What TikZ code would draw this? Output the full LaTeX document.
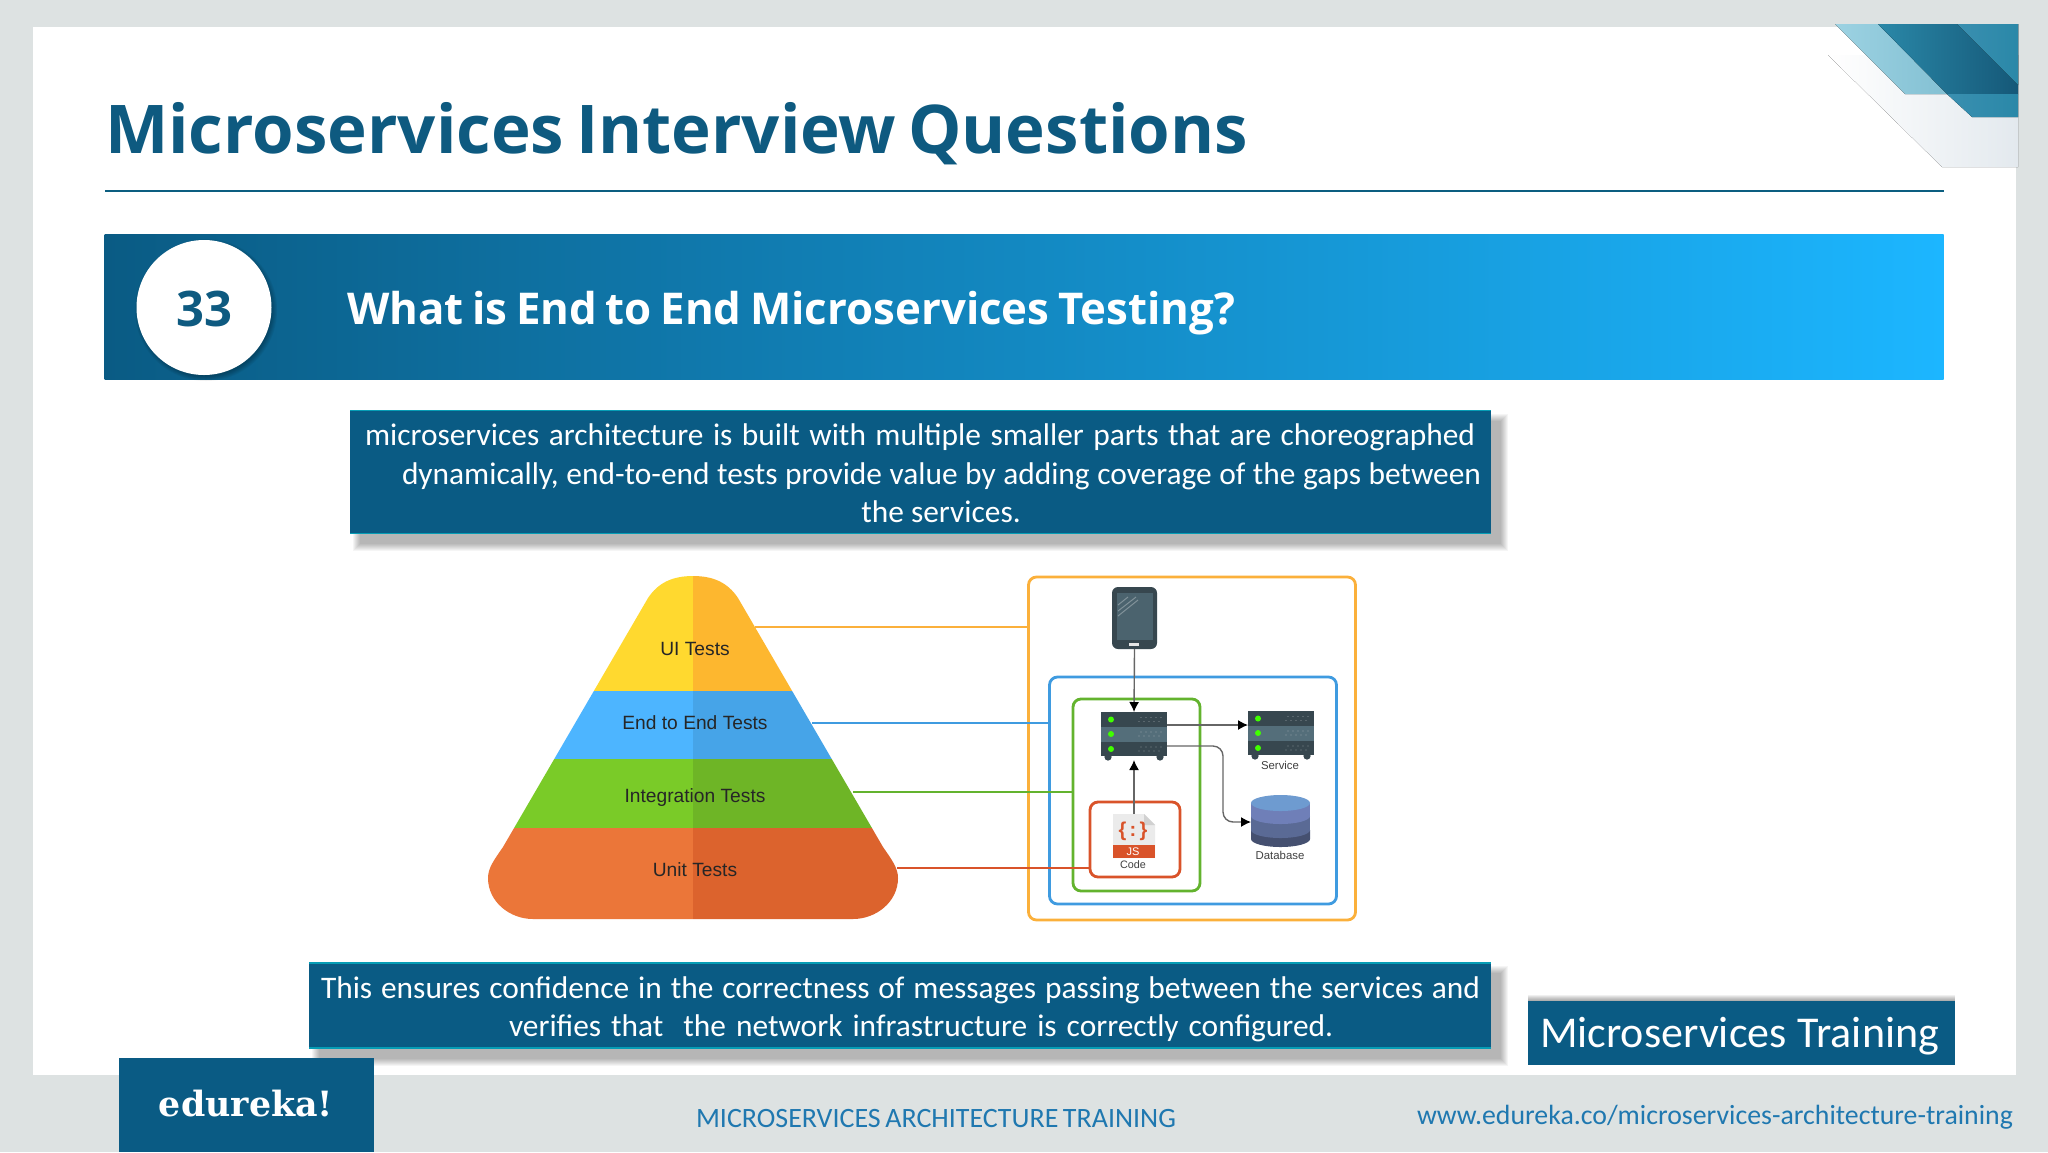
\documentclass[tikz,border=0pt]{standalone}
\usepackage{fontspec}
\usetikzlibrary{arrows.meta,calc}
\setmainfont{Carlito}
\newfontfamily\titlef{Open Sans}
\newfontfamily\labelf{Liberation Sans}
\newfontfamily\slabf{DejaVu Serif}
\definecolor{bgc}{HTML}{DDE2E2}
\definecolor{navy}{HTML}{0A5B84}
\definecolor{titlec}{HTML}{0E5A80}
\definecolor{footc}{HTML}{1F78B0}
\definecolor{ora}{HTML}{FBB03B}
\definecolor{blu}{HTML}{3F9BE0}
\definecolor{gre}{HTML}{63B32E}
\definecolor{red1}{HTML}{D9532A}
\definecolor{srvd}{HTML}{37474F}
\definecolor{srvl}{HTML}{546E7A}
\definecolor{ty1}{HTML}{FFD92F}\definecolor{ty2}{HTML}{FDB72F}
\definecolor{tb1}{HTML}{4DB5FF}\definecolor{tb2}{HTML}{46A4E8}
\definecolor{tg1}{HTML}{7ACB28}\definecolor{tg2}{HTML}{6EB526}
\definecolor{to1}{HTML}{EB7639}\definecolor{to2}{HTML}{DC632D}
\definecolor{bandm}{HTML}{1280B8}\definecolor{bandr}{HTML}{1CB6FF}
\definecolor{cg}{HTML}{E3E9EE}\definecolor{lt1}{HTML}{9CD2E2}\definecolor{lt2}{HTML}{78B8CC}
\definecolor{dk1}{HTML}{2A88A8}\definecolor{dk2}{HTML}{155878}\definecolor{md}{HTML}{3A8FB0}
\definecolor{db1}{HTML}{6E9BD0}\definecolor{db2}{HTML}{6F7FB8}\definecolor{db3}{HTML}{5A6A95}\definecolor{db4}{HTML}{455070}
\newcommand\fitl[2]{\makebox[#1pt][s]{#2}}
\newcommand\softshadow[4]{\foreach \i in {0,...,7}{\fill[black,opacity=.04] ({#1+10-\i},{#2+10-\i}) rectangle ({#3+10+\i},{#4+10+\i});}}
\newcommand\serverart[1]{%
 \begin{scope}[shift={(#1)}]
  \fill[srvd] (7,45) circle[radius=3.6]; \fill[srvd] (59,45) circle[radius=3.6];
  \fill[srvd] (0,0) rectangle (66,14.5);
  \fill[srvl] (0,14.5) rectangle (66,29.5);
  \fill[srvd] (0,29.5) rectangle (66,44);
  \foreach \yy in {7.5,22,37}{
   \fill[green!75!yellow] (10,\yy) circle[radius=3];
   \foreach \xx in {40,45,50,55,60}{\fill[white,opacity=.35] (\xx,\yy-2) circle[radius=.7]; \fill[white,opacity=.35] (\xx-2,\yy+2) circle[radius=.7];}
  }
 \end{scope}}
\tikzset{
 every node/.style={outer sep=0pt},
 panel/.style={fill=navy,minimum width=#1,inner sep=0pt,anchor=north west},
 tx/.style={inner sep=0pt,anchor=base west,text=white},
 txc/.style={inner sep=0pt,anchor=base,text=white},
 frame/.style={draw=#1,line width=1.4pt,rounded corners=4pt,inner sep=0pt,anchor=north west},
 lbl/.style={inner sep=0pt,font=\labelf\fontsize{9.6}{11}\selectfont,text=black!85},
 small/.style={inner sep=0pt,font=\labelf\fontsize{5.7}{6}\selectfont,text=black!75},
 tie/.style={line width=1.2pt},
 flow/.style={draw=black!60,line width=.7pt,-{Latex[black,length=5pt,width=5pt]}},
 ghost/.style={inner sep=0pt,anchor=north west}
}
\def\pyr{(693,576) .. controls (672,576) and (658,583) .. (648,598) -- (503,847) .. controls (494,860) and (488,868) .. (488,878) .. controls (488,902) and (510,919) .. (533,919) -- (853,919) .. controls (876,919) and (898,902) .. (898,878) .. controls (898,868) and (892,860) .. (883,847) -- (738,598) .. controls (728,583) and (714,576) .. (693,576) -- cycle}
\begin{document}
\begin{tikzpicture}[x=.5pt,y=-.5pt]
\useasboundingbox (0,0) rectangle (2048,1152);
\fill[bgc] (0,0) rectangle (2048,1152);
\fill[white] (33,27) rectangle (2016,1075);
% corner decoration
\fill[left color=white,right color=cg] (1828,55) -- (2018,55) -- (2018,167) -- (1942,167) -- cycle;
\fill[left color=lt1,right color=lt2] (1835,24) -- (1960,24) -- (2000,94) -- (1905,94) -- cycle;
\fill[left color=dk1,right color=dk2] (1878,24) -- (2018,24) -- (2018,94) -- (1947,94) -- cycle;
\fill[left color=md,right color=dk1] (1947,94) -- (2018,94) -- (2018,117) -- (1972,117) -- cycle;
\fill[left color=md,right color=dk1] (1957,24) -- (2018,24) -- (2018,85) -- cycle;
% title
\node[tx,text=titlec] (title) at (105,153) {\fitl{571.5}{\titlef\bfseries\fontsize{33.6}{40}\selectfont Microservices Interview Questions}};
\coordinate (ruleL) at (105,191); \coordinate (ruleR) at (1944,191);
\draw[titlec!90!teal,line width=1pt] (ruleL) -- (ruleR);
% band
\node[inner sep=0pt,anchor=north west,minimum width=919.5pt,minimum height=72.5pt,left color=navy,middle color=bandm,right color=bandr] (band) at (104.5,234.5) {};
\foreach \i in {0,...,5}{\fill[black,opacity=.05] (206,310) circle[radius={66+\i}];}
\node[circle,fill=white,minimum size=67.5pt,inner sep=0pt] (num) at (204,307.5) {};
\node[txc,text=titlec] (numt) at (204,326) {\titlef\bfseries\fontsize{24.5}{30}\selectfont 33};
\node[tx] (q) at (347,324) {\fitl{444}{\titlef\bfseries\fontsize{21.9}{26}\selectfont What is End to End Microservices Testing?}};
% text box 1
\softshadow{350}{411}{1491}{534}
\node[panel=570.5pt,minimum height=61.5pt] (b1) at (350,410.5) {};
\draw[navy!60!cyan,line width=.8pt] (b1.north west) -- (b1.north east) (b1.south west) -- (b1.south east);
\node[tx] (b1a) at (365,445.5) {\fitl{555}{\fontsize{15.7}{18}\selectfont microservices architecture is built with multiple smaller parts that are choreographed}};
\node[tx] (b1b) at (402,484) {\fitl{539.5}{\fontsize{15.7}{18}\selectfont dynamically, end-to-end tests provide value by adding coverage of the gaps between}};
\node[txc] (b1c) at (941,522) {\fontsize{15.7}{18}\selectfont the services.};
% pyramid
\begin{scope}
\clip \pyr;
\fill[ty1] (480,570) rectangle (693,691);
\fill[ty2] (693,570) rectangle (905,691);
\fill[tb1] (480,691) rectangle (693,759);
\fill[tb2] (693,691) rectangle (905,759);
\fill[tg1] (480,759) rectangle (693,828);
\fill[tg2] (693,759) rectangle (905,828);
\fill[to1] (480,828) rectangle (693,925);
\fill[to2] (693,828) rectangle (905,925);
\end{scope}
\node[lbl] (l1) at (695,649) {UI Tests};
\node[lbl] (l2) at (695,723) {End to End Tests};
\node[lbl] (l3) at (695,798) {Integration Tests};
\node[lbl] (l4) at (695,870) {Unit Tests};
\coordinate (e1) at (755,627); \coordinate (e2) at (812,723); \coordinate (e3) at (853,792); \coordinate (e4) at (897,868);
% frames
\node[frame=ora,minimum width=163.5pt,minimum height=171.5pt] (fo) at (1028.5,577) {};
\node[frame=blu,minimum width=143.5pt,minimum height=113.5pt] (fb) at (1049.5,677) {};
\node[frame=gre,minimum width=63.5pt,minimum height=96pt] (fg) at (1073,699) {};
\node[frame=red1,minimum width=45pt,minimum height=37.5pt] (fr) at (1090,802) {};
\draw[ora,tie] (e1) -- (e1 -| fo.west);
\draw[blu,tie] (e2) -- (e2 -| fb.west);
\draw[gre,tie] (e3) -- (e3 -| fg.west);
\draw[red1,tie] (e4) -- (e4 -| fr.west);
% tablet
\node[ghost,minimum width=22.5pt,minimum height=31pt] (tab) at (1112,587) {};
\fill[srvd,rounded corners=3pt] (tab.north west) rectangle (tab.south east);
\fill[srvl!90!black] (1117,593) rectangle (1153,640);
\draw[white,opacity=.3,line width=.5pt] (1118,605) -- (1128,597) (1118,611) -- (1136,597) (1118,616) -- (1138,600);
\fill[black!10] (1129,642.5) rectangle (1139,646);
% servers
\node[ghost,minimum width=33pt,minimum height=22pt] (srv) at (1101,712) {};
\serverart{1101,712}
\node[ghost,minimum width=33pt,minimum height=22pt] (svc) at (1248,711) {};
\serverart{1248,711}
\node[small] (svct) at (1280,765) {Service};
% database
\fill[db4] (1251,830) -- (1251,839) arc[start angle=180,end angle=0,x radius=29.5,y radius=8] -- (1310,830) -- cycle;
\fill[db3] (1251,815) rectangle (1310,830);
\fill[db3] (1251,830) arc[start angle=180,end angle=0,x radius=29.5,y radius=8];
\fill[db2] (1251,803) rectangle (1310,816);
\fill[db2] (1251,816) arc[start angle=180,end angle=0,x radius=29.5,y radius=8];
\fill[db1] (1280.5,803) ellipse[x radius=29.5,y radius=8];
\node[ghost,minimum width=29.5pt,minimum height=26pt] (db) at (1251,795) {};
\node[small] (dbt) at (1280,855) {Database};
% js doc
\node[ghost,minimum width=21pt,minimum height=22pt] (js) at (1113,814) {};
\fill[black!8] (1113,814) -- (1144,814) -- (1155,825) -- (1155,858) -- (1113,858) -- cycle;
\fill[black!18] (1144,814) -- (1155,825) -- (1144,825) -- cycle;
\fill[red1] (1113,845) rectangle (1155,858);
\node[inner sep=0pt,text=red1,font=\labelf\bfseries\fontsize{10}{11}\selectfont] (jsb) at (1133,831) {\{\,:\,\}};
\node[inner sep=0pt,text=white,font=\labelf\fontsize{5.5}{6}\selectfont] (jst) at (1133,852) {JS};
\node[small,font=\labelf\fontsize{5.4}{6}\selectfont] (jsc) at (1133,865) {Code};
% flows
\draw[flow] (tab.south) -- (srv.north);
\draw[flow] (js.north) -- ($(srv.south)+(0,4)$);
\coordinate (s1) at (1167,725); \coordinate (s2) at (1167,746);
\coordinate (t2) at (db.west |- 0,822);
\draw[flow] (s1) -- (s1 -| svc.west);
\draw[flow,rounded corners=5pt] (s2) -- (1223,746) -- (1223,822) -- (t2);
% text box 2
\softshadow{309}{963}{1491}{1049}
\node[panel=591pt,minimum height=42.5pt] (b2) at (309,963) {};
\draw[navy!60!cyan,line width=.8pt] (b2.north west) -- (b2.north east) (b2.south west) -- (b2.south east);
\node[tx] (b2a) at (321,998) {\fitl{579.5}{\fontsize{15.7}{18}\selectfont This ensures confidence in the correctness of messages passing between the services and}};
\node[tx] (b2b) at (509,1036) {\fitl{412}{\fontsize{15.7}{18}\selectfont verifies that\ \ the network infrastructure is correctly configured.}};
% training
\foreach \i in {0,...,5}{\fill[black,opacity=.06] (1528,{995+\i}) rectangle (1955,1003);}
\node[panel=213.5pt,minimum height=32pt] (tr) at (1528,1001) {};
\node[tx] (trt) at (1540,1047) {\fitl{199.5}{\fontsize{22}{25}\selectfont Microservices Training}};
% footer
\node[panel=127.5pt,minimum height=47pt] (edu) at (119,1058) {};
\node[txc] (edut) at (246,1116) {\slabf\bfseries\fontsize{17.4}{22}\selectfont edureka!};
\node[tx,text=footc] (ft) at (696,1127) {\fitl{240}{\fontsize{14}{16}\selectfont MICROSERVICES ARCHITECTURE TRAINING}};
\node[tx,text=footc] (url) at (1417,1124) {\fitl{298.5}{\fontsize{13.9}{17}\selectfont www.edureka.co/microservices-architecture-training}};
\end{tikzpicture}
\end{document}
